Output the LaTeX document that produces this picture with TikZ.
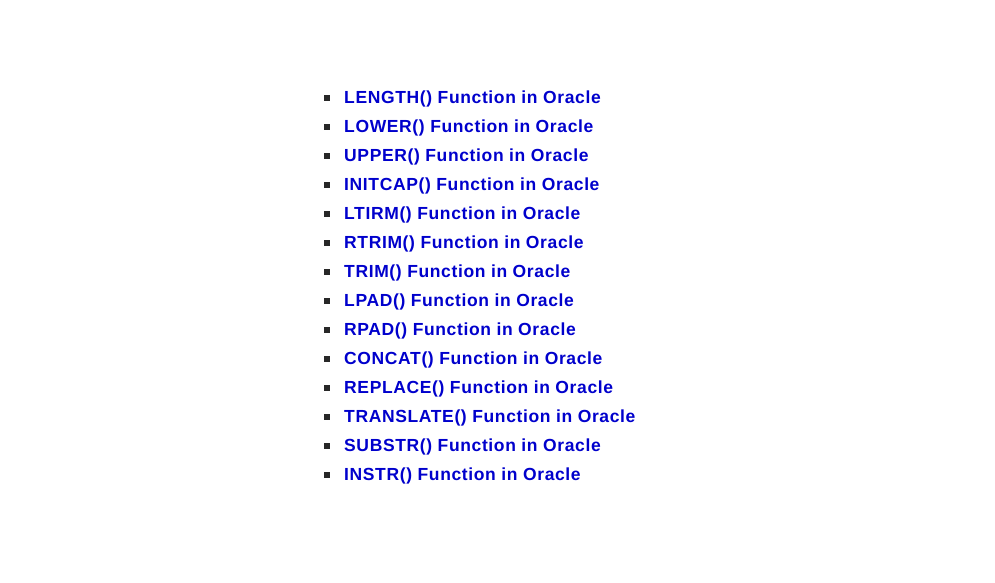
\documentclass[tikz,border=0pt]{standalone}
\usepackage{fontspec}
\setmainfont{Liberation Sans}
\newfontfamily\listfont[LetterSpace=3.6]{Liberation Sans}
\usetikzlibrary{positioning}
\definecolor{linkblue}{RGB}{0,0,204}
\definecolor{bulletgray}{RGB}{40,40,40}
\tikzset{item/.style={anchor=base west,inner sep=0pt,text=linkblue,font=\listfont\fontsize{17.5}{18}\selectfont\bfseries}}

\begin{document}
\begin{tikzpicture} [x=1pt,y=-1pt]
\useasboundingbox (0,0) rectangle (995,582);
\foreach \t [count=\i from 0] in {LENGTH,LOWER,UPPER,INITCAP,LTIRM,RTRIM,TRIM,LPAD,RPAD,CONCAT,REPLACE,TRANSLATE,SUBSTR,INSTR}
{
\node [item] (fn\i) at (344,103.5+29*\i) {\t() Function in Oracle};
\fill [bulletgray] (324,94.5+29*\i) rectangle (330,100.5+29*\i);
}
\end{tikzpicture}
\end{document}
